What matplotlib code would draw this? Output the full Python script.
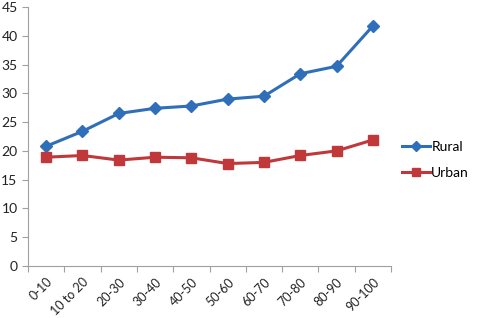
import matplotlib.pyplot as plt
import matplotlib.transforms as mtransforms
import numpy as np

categories = ["0-10", "10 to 20", "20-30", "30-40", "40-50", "50-60",
              "60-70", "70-80", "80-90", "90-100"]
rural = [20.8, 23.4, 26.5, 27.4, 27.8, 29.0, 29.5, 33.4, 34.7, 41.7]
urban = [18.9, 19.2, 18.4, 18.9, 18.8, 17.8, 18.0, 19.2, 20.0, 21.9]

plt.rcParams['font.family'] = ['Lato', 'DejaVu Sans']

fig = plt.figure(figsize=(4.78, 3.18), dpi=100)
ax = fig.add_axes([28 / 478, 52 / 318, 363 / 478, 259 / 318])

x = np.arange(len(categories))
ax.plot(x, rural, color="#2F6EB8", lw=2.2, marker="D", ms=6.5, label="Rural")
ax.plot(x, urban, color="#C0383A", lw=2.2, marker="s", ms=7.5, label="Urban")

ax.set_ylim(0, 45)
ax.set_yticks(range(0, 46, 5))
ax.set_xlim(-0.5, len(categories) - 0.5)
ax.set_xticks(np.arange(-0.5, len(categories), 1.0))
ax.set_xticklabels([])
ax.set_xticks(x, minor=True)
ax.set_xticklabels(categories, minor=True, rotation=45, ha="right",
                   va="top", rotation_mode="anchor")

# shift category labels a little to the right, like the original
shift = mtransforms.ScaledTranslation(6 / 100, 0, fig.dpi_scale_trans)
for lbl in ax.get_xticklabels(minor=True):
    lbl.set_transform(lbl.get_transform() + shift)

for side in ["top", "right"]:
    ax.spines[side].set_visible(False)
for side in ["left", "bottom"]:
    ax.spines[side].set_color("#A0A0A0")
ax.tick_params(axis="both", which="major", color="#A0A0A0", length=4,
               labelsize=10, labelcolor="#222222")
ax.tick_params(axis="x", which="minor", length=0, labelsize=9,
               labelcolor="#222222", pad=7)

ax.legend(loc="center left", bbox_to_anchor=(1.0, 0.41), borderaxespad=0.4,
          frameon=False, fontsize=10, handlelength=2.0, labelspacing=1.0,
          handletextpad=0.1, markerscale=0.85)

fig.savefig("out.png", dpi=100)
